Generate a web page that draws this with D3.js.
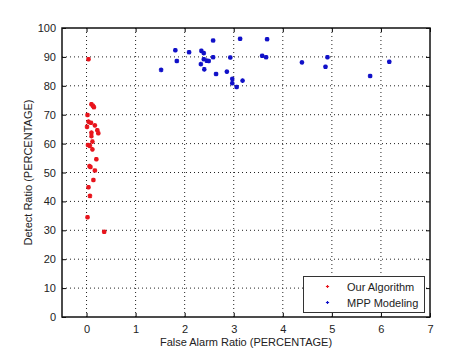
<!DOCTYPE html>
<html><head><meta charset="utf-8">
<script src="https://cdn.jsdelivr.net/npm/d3@7"></script>
<style>body{margin:0;background:#fff;}svg{display:block;font-family:Arial,"Liberation Sans",sans-serif;}</style>
</head><body><svg id="c" width="474" height="355"></svg>
<script>
const ourX = [0.04,0.10,0.13,0.15,0.02,0.04,0.09,0.01,0.17,0.10,0.10,0.22,0.24,0.03,0.07,0.12,0.12,0.20,0.06,0.08,0.17,0.14,0.04,0.07,0.02,0.36];
const ourY = [89.2,73.6,73.1,72.6,69.9,67.6,67.2,65.8,66.3,63.8,62.6,64.6,63.6,59.5,59.2,60.7,58.0,54.6,52.2,51.9,50.7,47.4,44.9,41.9,34.5,29.5];
const mppX = [1.52,1.81,1.84,2.09,2.34,2.39,2.33,2.39,2.45,2.49,2.40,2.58,2.58,2.64,2.86,2.93,2.97,2.97,3.06,3.13,3.18,3.58,3.66,3.68,4.39,4.87,4.91,5.78,6.17];
const mppY = [85.5,92.3,88.6,91.6,92.1,91.3,87.5,89.2,88.7,88.6,85.7,95.7,89.9,84.1,84.9,89.8,82.4,80.9,79.6,96.3,81.8,90.4,89.9,96.1,88.1,86.6,89.9,83.4,88.3];
const xTicks = [0,1,2,3,4,5,6,7];
const yTicks = [0,10,20,30,40,50,60,70,80,90,100];
const seriesNames = ["Our Algorithm","MPP Modeling"];
const seriesColors = ["#e8141c","#1010c8"];

const svg = d3.select("#c");
const L=62,R=430,T=28,B=317;
const x = d3.scaleLinear().domain([-0.5,7]).range([L,R]);
const y = d3.scaleLinear().domain([0,100]).range([B,T]);

// grid
const g = svg.append("g");
g.selectAll(".vg").data(xTicks.filter(d=>d>=0&&d<7)).enter().append("line")
  .attr("x1",d=>x(d)).attr("x2",d=>x(d)).attr("y1",T).attr("y2",B)
  .attr("stroke","#222").attr("stroke-width",1).attr("stroke-dasharray","1,3");
g.selectAll(".hg").data(yTicks.filter(d=>d>0&&d<100)).enter().append("line")
  .attr("x1",L).attr("x2",R).attr("y1",d=>y(d)).attr("y2",d=>y(d))
  .attr("stroke","#222").attr("stroke-width",1).attr("stroke-dasharray","1,3");

// axes with inward ticks
const axL = d3.axisLeft(y).tickValues(yTicks).tickSizeInner(-4).tickSizeOuter(0).tickPadding(6);
const axB = d3.axisBottom(x).tickValues(xTicks).tickSizeInner(-4).tickSizeOuter(0).tickPadding(8);
const axR = d3.axisRight(y).tickValues(yTicks).tickSizeInner(-4).tickSizeOuter(0).tickFormat("");
const axT = d3.axisTop(x).tickValues(xTicks).tickSizeInner(-4).tickSizeOuter(0).tickFormat("");
function style(sel){
  sel.select(".domain").remove();
  sel.selectAll("line").attr("stroke","#000");
  sel.selectAll("text").attr("fill","#222").style("font-size","11px").style("font-family","Arial,'Liberation Sans',sans-serif");
}
svg.append("g").attr("transform",`translate(${L},0)`).call(axL).call(style);
svg.append("g").attr("transform",`translate(0,${B})`).call(axB).call(style);
svg.append("g").attr("transform",`translate(${R},0)`).call(axR).call(style);
svg.append("g").attr("transform",`translate(0,${T})`).call(axT).call(style);

// box
svg.append("rect").attr("x",L).attr("y",T).attr("width",R-L).attr("height",B-T)
  .attr("fill","none").attr("stroke","#111").attr("stroke-width",1.5);

// markers (asterisk)
function star(sel,color){
  const s=2.3;
  sel.append("path").attr("d",`M${-s},0H${s}M0,${-s}V${s}M${-s*0.75},${-s*0.75}L${s*0.75},${s*0.75}M${-s*0.75},${s*0.75}L${s*0.75},${-s*0.75}`)
    .attr("stroke",color).attr("stroke-width",1.4).attr("fill","none");
}
const ourData = ourX.map((v,i)=>({x:v,y:ourY[i]}));
const mppData = mppX.map((v,i)=>({x:v,y:mppY[i]}));
[ourData,mppData].forEach((data,k)=>{
  svg.append("g").selectAll("g").data(data).enter().append("g")
    .attr("transform",d=>`translate(${x(d.x)},${y(d.y)})`)
    .each(function(){ star(d3.select(this),seriesColors[k]); });
});

// legend
const lg = svg.append("g");
lg.append("rect").attr("x",303.5).attr("y",276.5).attr("width",121).attr("height",36)
  .attr("fill","#fff").attr("stroke","#333").attr("stroke-width",1);
seriesNames.forEach((n,i)=>{
  const yy = 286.5 + i*16;
  const m = lg.append("g").attr("transform",`translate(327.5,${yy})`);
  const s=1.6;
  m.append("path").attr("d",`M${-s},0H${s}M0,${-s}V${s}`).attr("stroke",seriesColors[i]).attr("stroke-width",1.2);
  lg.append("text").attr("x",347).attr("y",yy+4).text(n).attr("fill","#222").style("font-size","11px");
});

// labels
svg.append("text").attr("x",(L+R)/2).attr("y",346).attr("text-anchor","middle")
  .attr("fill","#222").style("font-size","11px").text("False Alarm Ratio (PERCENTAGE)");
svg.append("text").attr("transform",`translate(32,${(T+B)/2}) rotate(-90)`).attr("text-anchor","middle")
  .attr("fill","#222").style("font-size","11px").text("Detect Ratio (PERCENTAGE)");
</script></body></html>
